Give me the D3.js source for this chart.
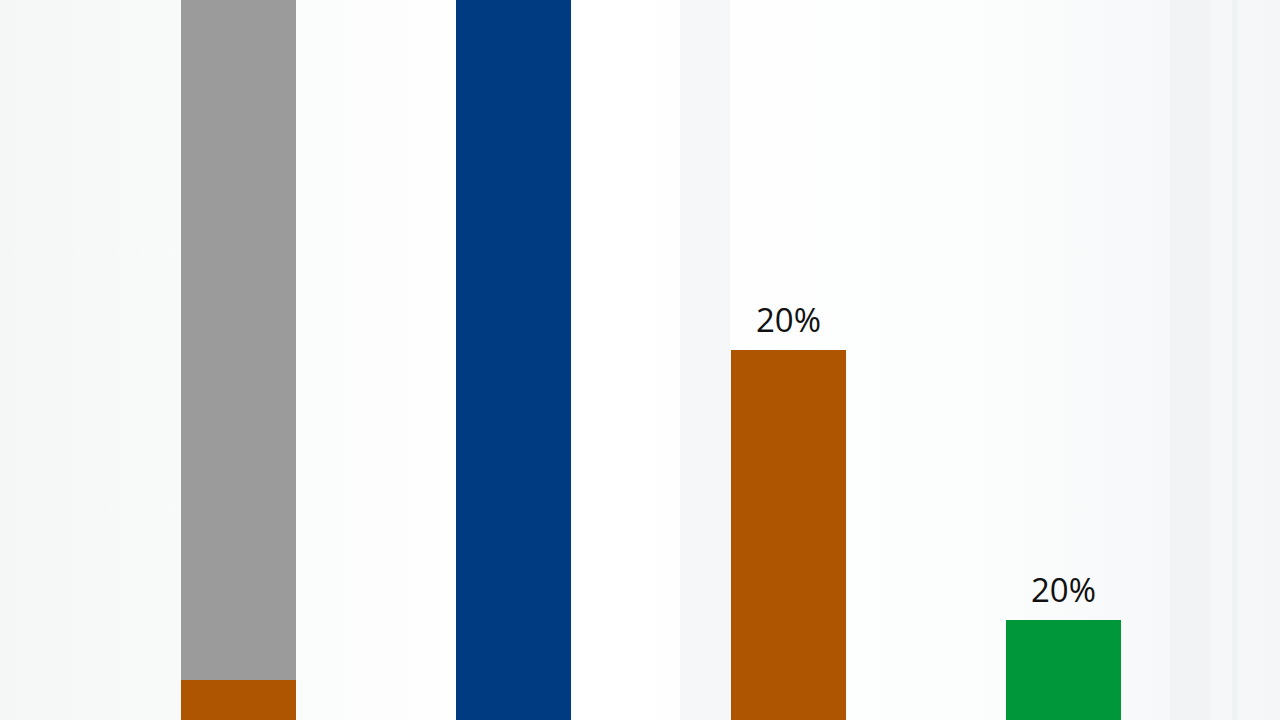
<!DOCTYPE html>
<html>
<head>
<meta charset="utf-8">
<script src="https://cdn.jsdelivr.net/npm/d3@7"></script>
<style>
  html, body { margin: 0; padding: 0; overflow: hidden; }
  svg { display: block; }
</style>
</head>
<body>
<svg id="chart" width="1280" height="720"></svg>
<script>
// data (percent). the chart is cropped: tops and baseline fall outside the frame
const categories = ["A", "B", "C", "D"];
const segStart  = [0,    33.5, 0,     30,    16.5];
const segEnd    = [33.5, 100,  100,   50,    36.5];
const segCat    = ["A",  "A",  "B",   "C",   "D"];
const segKind   = ["orange", "gray", "blue", "orange", "green"];
const segLabel  = ["", "", "", "20%", "20%"];

const colors = {
    gray: "#9b9b9b",
    blue: "#003a80",
    orange: "#ad5500",
    green: "#00973a"
};

const W = 1280, H = 720;
const svg = d3.select("#chart");

// faint washed-out background
const defs = svg.append("defs");
const grad = defs.append("linearGradient")
    .attr("id", "bg").attr("x1", 0).attr("x2", 1).attr("y1", 0).attr("y2", 0);
grad.append("stop").attr("offset", "0%").attr("stop-color", "#f5f7f7");
grad.append("stop").attr("offset", "20%").attr("stop-color", "#fafbfb");
grad.append("stop").attr("offset", "40%").attr("stop-color", "#ffffff");
grad.append("stop").attr("offset", "75%").attr("stop-color", "#fcfdfd");
grad.append("stop").attr("offset", "100%").attr("stop-color", "#f4f6f7");
svg.append("rect").attr("width", W).attr("height", H).attr("fill", "url(#bg)");

// a few blurry window frames, just decoration
const frames = [[1170, 40], [1232, 6], [680, 50]];
svg.selectAll("rect.frame")
    .data(frames)
    .enter().append("rect")
    .attr("class", "frame")
    .attr("x", d => d[0]).attr("y", 0)
    .attr("width", d => d[1]).attr("height", H)
    .attr("fill", "#e8ecee").attr("opacity", 0.35);

// scales
const x = d3.scaleBand()
    .domain(categories)
    .range([101, 1201])
    .paddingInner(0.5818)
    .paddingOuter(0.2909);

const y = d3.scaleLinear()
    .domain([0, 100])
    .range([1350, -650]);

const segs = segStart.map((s, i) => ({
    start: s, end: segEnd[i], cat: segCat[i], kind: segKind[i], label: segLabel[i]
}));

svg.append("g").selectAll("rect")
    .data(segs)
    .enter().append("rect")
    .attr("x", d => x(d.cat))
    .attr("y", d => y(d.end))
    .attr("width", x.bandwidth())
    .attr("height", d => y(d.start) - y(d.end))
    .attr("fill", d => colors[d.kind]);

svg.append("g").selectAll("text")
    .data(segs.filter(d => d.label))
    .enter().append("text")
    .attr("x", d => x(d.cat) + x.bandwidth() / 2)
    .attr("y", d => y(d.end) - 18)
    .attr("text-anchor", "middle")
    .attr("font-family", "'Open Sans', 'DejaVu Sans', sans-serif")
    .attr("font-size", 33)
    .attr("fill", "#111")
    .text(d => d.label);
</script>
</body>
</html>
